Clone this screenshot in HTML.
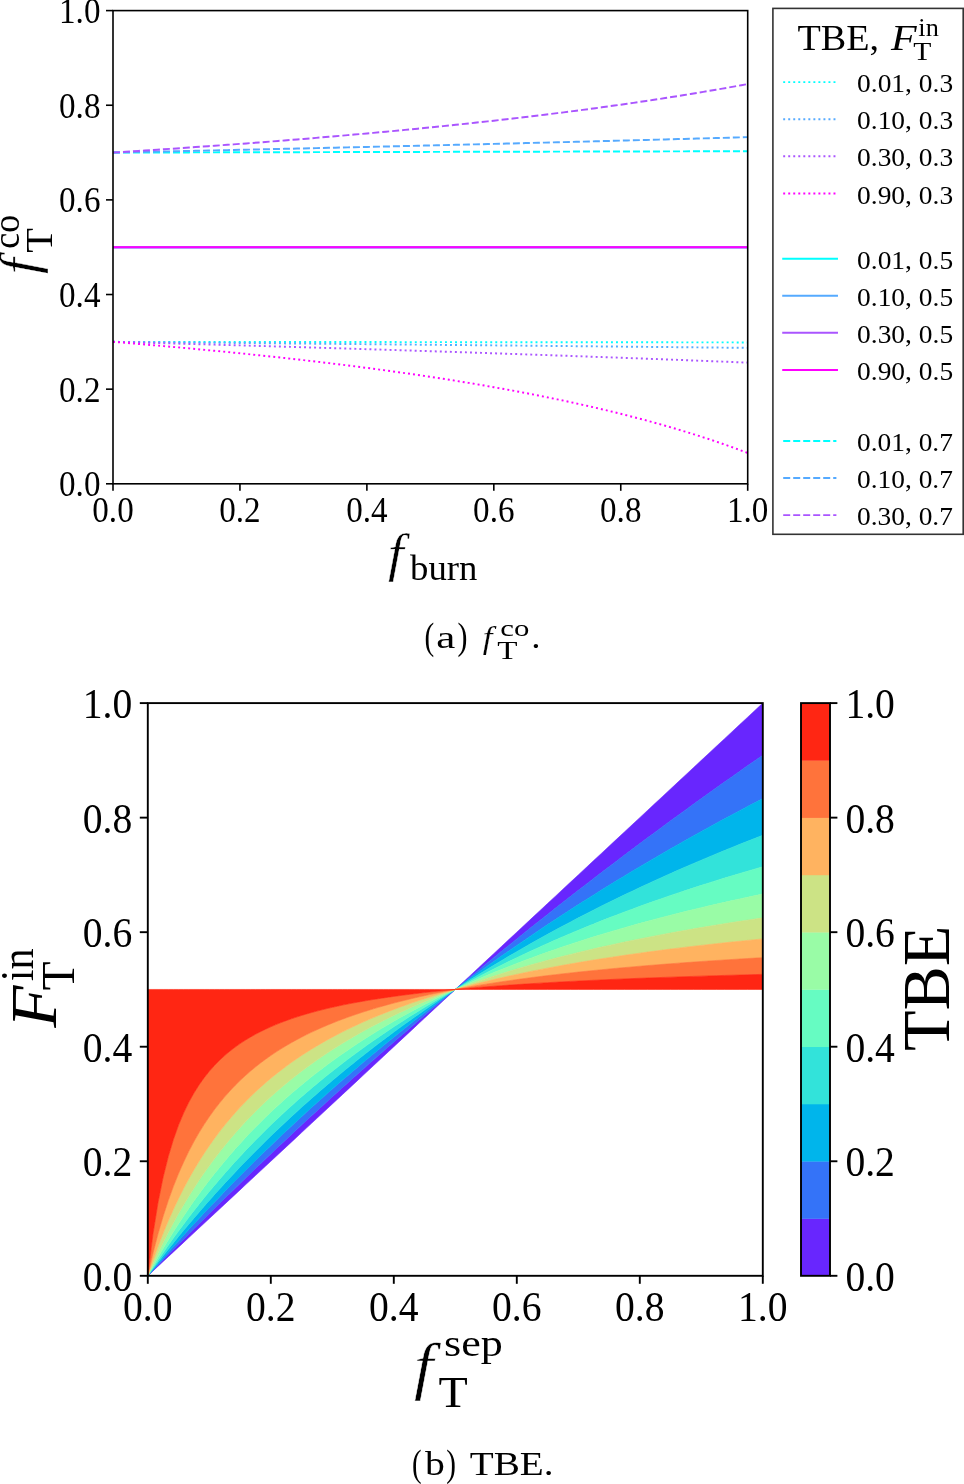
<!DOCTYPE html>
<html><head><meta charset="utf-8"><title>figure</title>
<style>
html,body{margin:0;padding:0;background:#fff}
svg{display:block}
text{font-family:"Liberation Serif",serif;font-kerning:none;white-space:pre}
</style></head><body>
<svg width="964" height="1484" viewBox="0 0 964 1484">
<rect width="964" height="1484" fill="#fff"/>
<clipPath id="c1"><rect x="113.00" y="10.60" width="634.70" height="473.20"/></clipPath>
<g clip-path="url(#c1)" fill="none" stroke-width="1.95">
<polyline points="113.00,341.84 119.35,341.85 125.69,341.85 132.04,341.86 138.39,341.86 144.74,341.87 151.08,341.87 157.43,341.88 163.78,341.89 170.12,341.89 176.47,341.90 182.82,341.90 189.16,341.91 195.51,341.91 201.86,341.92 208.20,341.93 214.55,341.93 220.90,341.94 227.25,341.94 233.59,341.95 239.94,341.95 246.29,341.96 252.63,341.97 258.98,341.97 265.33,341.98 271.68,341.98 278.02,341.99 284.37,341.99 290.72,342.00 297.06,342.00 303.41,342.01 309.76,342.02 316.10,342.02 322.45,342.03 328.80,342.03 335.15,342.04 341.49,342.04 347.84,342.05 354.19,342.06 360.53,342.06 366.88,342.07 373.23,342.07 379.57,342.08 385.92,342.08 392.27,342.09 398.62,342.10 404.96,342.10 411.31,342.11 417.66,342.11 424.00,342.12 430.35,342.12 436.70,342.13 443.04,342.14 449.39,342.14 455.74,342.15 462.09,342.15 468.43,342.16 474.78,342.16 481.13,342.17 487.47,342.18 493.82,342.18 500.17,342.19 506.51,342.19 512.86,342.20 519.21,342.20 525.56,342.21 531.90,342.22 538.25,342.22 544.60,342.23 550.94,342.23 557.29,342.24 563.64,342.24 569.98,342.25 576.33,342.26 582.68,342.26 589.03,342.27 595.37,342.27 601.72,342.28 608.07,342.28 614.41,342.29 620.76,342.30 627.11,342.30 633.45,342.31 639.80,342.31 646.15,342.32 652.50,342.33 658.84,342.33 665.19,342.34 671.54,342.34 677.88,342.35 684.23,342.35 690.58,342.36 696.92,342.37 703.27,342.37 709.62,342.38 715.97,342.38 722.31,342.39 728.66,342.39 735.01,342.40 741.35,342.41 747.70,342.41" stroke="#00ffff" stroke-dasharray="1.95 3.08"/>
<polyline points="113.00,341.84 119.35,341.90 125.69,341.95 132.04,342.01 138.39,342.07 144.74,342.12 151.08,342.18 157.43,342.24 163.78,342.30 170.12,342.35 176.47,342.41 182.82,342.47 189.16,342.53 195.51,342.58 201.86,342.64 208.20,342.70 214.55,342.76 220.90,342.82 227.25,342.87 233.59,342.93 239.94,342.99 246.29,343.05 252.63,343.11 258.98,343.16 265.33,343.22 271.68,343.28 278.02,343.34 284.37,343.40 290.72,343.46 297.06,343.52 303.41,343.57 309.76,343.63 316.10,343.69 322.45,343.75 328.80,343.81 335.15,343.87 341.49,343.93 347.84,343.99 354.19,344.05 360.53,344.11 366.88,344.17 373.23,344.23 379.57,344.29 385.92,344.35 392.27,344.41 398.62,344.47 404.96,344.53 411.31,344.59 417.66,344.65 424.00,344.71 430.35,344.77 436.70,344.83 443.04,344.89 449.39,344.95 455.74,345.01 462.09,345.07 468.43,345.13 474.78,345.19 481.13,345.25 487.47,345.31 493.82,345.37 500.17,345.44 506.51,345.50 512.86,345.56 519.21,345.62 525.56,345.68 531.90,345.74 538.25,345.80 544.60,345.87 550.94,345.93 557.29,345.99 563.64,346.05 569.98,346.11 576.33,346.18 582.68,346.24 589.03,346.30 595.37,346.36 601.72,346.42 608.07,346.49 614.41,346.55 620.76,346.61 627.11,346.67 633.45,346.74 639.80,346.80 646.15,346.86 652.50,346.93 658.84,346.99 665.19,347.05 671.54,347.12 677.88,347.18 684.23,347.24 690.58,347.31 696.92,347.37 703.27,347.43 709.62,347.50 715.97,347.56 722.31,347.62 728.66,347.69 735.01,347.75 741.35,347.82 747.70,347.88" stroke="#55aaff" stroke-dasharray="1.95 3.08"/>
<polyline points="113.00,341.84 119.35,342.01 125.69,342.18 132.04,342.35 138.39,342.53 144.74,342.70 151.08,342.87 157.43,343.05 163.78,343.22 170.12,343.40 176.47,343.57 182.82,343.75 189.16,343.93 195.51,344.11 201.86,344.29 208.20,344.47 214.55,344.65 220.90,344.83 227.25,345.01 233.59,345.19 239.94,345.37 246.29,345.56 252.63,345.74 258.98,345.93 265.33,346.11 271.68,346.30 278.02,346.49 284.37,346.67 290.72,346.86 297.06,347.05 303.41,347.24 309.76,347.43 316.10,347.62 322.45,347.82 328.80,348.01 335.15,348.20 341.49,348.40 347.84,348.59 354.19,348.79 360.53,348.99 366.88,349.18 373.23,349.38 379.57,349.58 385.92,349.78 392.27,349.98 398.62,350.18 404.96,350.38 411.31,350.59 417.66,350.79 424.00,350.99 430.35,351.20 436.70,351.41 443.04,351.61 449.39,351.82 455.74,352.03 462.09,352.24 468.43,352.45 474.78,352.66 481.13,352.87 487.47,353.08 493.82,353.30 500.17,353.51 506.51,353.73 512.86,353.94 519.21,354.16 525.56,354.38 531.90,354.60 538.25,354.82 544.60,355.04 550.94,355.26 557.29,355.48 563.64,355.71 569.98,355.93 576.33,356.16 582.68,356.38 589.03,356.61 595.37,356.84 601.72,357.07 608.07,357.30 614.41,357.53 620.76,357.76 627.11,357.99 633.45,358.23 639.80,358.46 646.15,358.70 652.50,358.94 658.84,359.17 665.19,359.41 671.54,359.65 677.88,359.89 684.23,360.14 690.58,360.38 696.92,360.62 703.27,360.87 709.62,361.11 715.97,361.36 722.31,361.61 728.66,361.86 735.01,362.11 741.35,362.36 747.70,362.61" stroke="#aa55ff" stroke-dasharray="1.95 3.08"/>
<polyline points="113.00,341.84 119.35,342.35 125.69,342.87 132.04,343.40 138.39,343.93 144.74,344.47 151.08,345.01 157.43,345.56 163.78,346.11 170.12,346.67 176.47,347.24 182.82,347.82 189.16,348.40 195.51,348.99 201.86,349.58 208.20,350.18 214.55,350.79 220.90,351.41 227.25,352.03 233.59,352.66 239.94,353.30 246.29,353.94 252.63,354.60 258.98,355.26 265.33,355.93 271.68,356.61 278.02,357.30 284.37,357.99 290.72,358.70 297.06,359.41 303.41,360.14 309.76,360.87 316.10,361.61 322.45,362.36 328.80,363.12 335.15,363.90 341.49,364.68 347.84,365.47 354.19,366.27 360.53,367.09 366.88,367.91 373.23,368.75 379.57,369.60 385.92,370.46 392.27,371.33 398.62,372.22 404.96,373.12 411.31,374.03 417.66,374.95 424.00,375.89 430.35,376.84 436.70,377.81 443.04,378.79 449.39,379.79 455.74,380.80 462.09,381.82 468.43,382.87 474.78,383.92 481.13,385.00 487.47,386.09 493.82,387.20 500.17,388.33 506.51,389.47 512.86,390.64 519.21,391.82 525.56,393.02 531.90,394.25 538.25,395.49 544.60,396.76 550.94,398.04 557.29,399.35 563.64,400.69 569.98,402.04 576.33,403.42 582.68,404.83 589.03,406.26 595.37,407.72 601.72,409.20 608.07,410.71 614.41,412.25 620.76,413.82 627.11,415.42 633.45,417.05 639.80,418.71 646.15,420.41 652.50,422.14 658.84,423.90 665.19,425.70 671.54,427.54 677.88,429.41 684.23,431.32 690.58,433.28 696.92,435.28 703.27,437.32 709.62,439.40 715.97,441.53 722.31,443.71 728.66,445.94 735.01,448.22 741.35,450.55 747.70,452.94" stroke="#ff00ff" stroke-dasharray="1.95 3.08"/>
<polyline points="113.00,247.20 119.35,247.20 125.69,247.20 132.04,247.20 138.39,247.20 144.74,247.20 151.08,247.20 157.43,247.20 163.78,247.20 170.12,247.20 176.47,247.20 182.82,247.20 189.16,247.20 195.51,247.20 201.86,247.20 208.20,247.20 214.55,247.20 220.90,247.20 227.25,247.20 233.59,247.20 239.94,247.20 246.29,247.20 252.63,247.20 258.98,247.20 265.33,247.20 271.68,247.20 278.02,247.20 284.37,247.20 290.72,247.20 297.06,247.20 303.41,247.20 309.76,247.20 316.10,247.20 322.45,247.20 328.80,247.20 335.15,247.20 341.49,247.20 347.84,247.20 354.19,247.20 360.53,247.20 366.88,247.20 373.23,247.20 379.57,247.20 385.92,247.20 392.27,247.20 398.62,247.20 404.96,247.20 411.31,247.20 417.66,247.20 424.00,247.20 430.35,247.20 436.70,247.20 443.04,247.20 449.39,247.20 455.74,247.20 462.09,247.20 468.43,247.20 474.78,247.20 481.13,247.20 487.47,247.20 493.82,247.20 500.17,247.20 506.51,247.20 512.86,247.20 519.21,247.20 525.56,247.20 531.90,247.20 538.25,247.20 544.60,247.20 550.94,247.20 557.29,247.20 563.64,247.20 569.98,247.20 576.33,247.20 582.68,247.20 589.03,247.20 595.37,247.20 601.72,247.20 608.07,247.20 614.41,247.20 620.76,247.20 627.11,247.20 633.45,247.20 639.80,247.20 646.15,247.20 652.50,247.20 658.84,247.20 665.19,247.20 671.54,247.20 677.88,247.20 684.23,247.20 690.58,247.20 696.92,247.20 703.27,247.20 709.62,247.20 715.97,247.20 722.31,247.20 728.66,247.20 735.01,247.20 741.35,247.20 747.70,247.20" stroke="#00ffff" stroke-linecap="square"/>
<polyline points="113.00,247.20 119.35,247.20 125.69,247.20 132.04,247.20 138.39,247.20 144.74,247.20 151.08,247.20 157.43,247.20 163.78,247.20 170.12,247.20 176.47,247.20 182.82,247.20 189.16,247.20 195.51,247.20 201.86,247.20 208.20,247.20 214.55,247.20 220.90,247.20 227.25,247.20 233.59,247.20 239.94,247.20 246.29,247.20 252.63,247.20 258.98,247.20 265.33,247.20 271.68,247.20 278.02,247.20 284.37,247.20 290.72,247.20 297.06,247.20 303.41,247.20 309.76,247.20 316.10,247.20 322.45,247.20 328.80,247.20 335.15,247.20 341.49,247.20 347.84,247.20 354.19,247.20 360.53,247.20 366.88,247.20 373.23,247.20 379.57,247.20 385.92,247.20 392.27,247.20 398.62,247.20 404.96,247.20 411.31,247.20 417.66,247.20 424.00,247.20 430.35,247.20 436.70,247.20 443.04,247.20 449.39,247.20 455.74,247.20 462.09,247.20 468.43,247.20 474.78,247.20 481.13,247.20 487.47,247.20 493.82,247.20 500.17,247.20 506.51,247.20 512.86,247.20 519.21,247.20 525.56,247.20 531.90,247.20 538.25,247.20 544.60,247.20 550.94,247.20 557.29,247.20 563.64,247.20 569.98,247.20 576.33,247.20 582.68,247.20 589.03,247.20 595.37,247.20 601.72,247.20 608.07,247.20 614.41,247.20 620.76,247.20 627.11,247.20 633.45,247.20 639.80,247.20 646.15,247.20 652.50,247.20 658.84,247.20 665.19,247.20 671.54,247.20 677.88,247.20 684.23,247.20 690.58,247.20 696.92,247.20 703.27,247.20 709.62,247.20 715.97,247.20 722.31,247.20 728.66,247.20 735.01,247.20 741.35,247.20 747.70,247.20" stroke="#55aaff" stroke-linecap="square"/>
<polyline points="113.00,247.20 119.35,247.20 125.69,247.20 132.04,247.20 138.39,247.20 144.74,247.20 151.08,247.20 157.43,247.20 163.78,247.20 170.12,247.20 176.47,247.20 182.82,247.20 189.16,247.20 195.51,247.20 201.86,247.20 208.20,247.20 214.55,247.20 220.90,247.20 227.25,247.20 233.59,247.20 239.94,247.20 246.29,247.20 252.63,247.20 258.98,247.20 265.33,247.20 271.68,247.20 278.02,247.20 284.37,247.20 290.72,247.20 297.06,247.20 303.41,247.20 309.76,247.20 316.10,247.20 322.45,247.20 328.80,247.20 335.15,247.20 341.49,247.20 347.84,247.20 354.19,247.20 360.53,247.20 366.88,247.20 373.23,247.20 379.57,247.20 385.92,247.20 392.27,247.20 398.62,247.20 404.96,247.20 411.31,247.20 417.66,247.20 424.00,247.20 430.35,247.20 436.70,247.20 443.04,247.20 449.39,247.20 455.74,247.20 462.09,247.20 468.43,247.20 474.78,247.20 481.13,247.20 487.47,247.20 493.82,247.20 500.17,247.20 506.51,247.20 512.86,247.20 519.21,247.20 525.56,247.20 531.90,247.20 538.25,247.20 544.60,247.20 550.94,247.20 557.29,247.20 563.64,247.20 569.98,247.20 576.33,247.20 582.68,247.20 589.03,247.20 595.37,247.20 601.72,247.20 608.07,247.20 614.41,247.20 620.76,247.20 627.11,247.20 633.45,247.20 639.80,247.20 646.15,247.20 652.50,247.20 658.84,247.20 665.19,247.20 671.54,247.20 677.88,247.20 684.23,247.20 690.58,247.20 696.92,247.20 703.27,247.20 709.62,247.20 715.97,247.20 722.31,247.20 728.66,247.20 735.01,247.20 741.35,247.20 747.70,247.20" stroke="#aa55ff" stroke-linecap="square"/>
<polyline points="113.00,247.20 119.35,247.20 125.69,247.20 132.04,247.20 138.39,247.20 144.74,247.20 151.08,247.20 157.43,247.20 163.78,247.20 170.12,247.20 176.47,247.20 182.82,247.20 189.16,247.20 195.51,247.20 201.86,247.20 208.20,247.20 214.55,247.20 220.90,247.20 227.25,247.20 233.59,247.20 239.94,247.20 246.29,247.20 252.63,247.20 258.98,247.20 265.33,247.20 271.68,247.20 278.02,247.20 284.37,247.20 290.72,247.20 297.06,247.20 303.41,247.20 309.76,247.20 316.10,247.20 322.45,247.20 328.80,247.20 335.15,247.20 341.49,247.20 347.84,247.20 354.19,247.20 360.53,247.20 366.88,247.20 373.23,247.20 379.57,247.20 385.92,247.20 392.27,247.20 398.62,247.20 404.96,247.20 411.31,247.20 417.66,247.20 424.00,247.20 430.35,247.20 436.70,247.20 443.04,247.20 449.39,247.20 455.74,247.20 462.09,247.20 468.43,247.20 474.78,247.20 481.13,247.20 487.47,247.20 493.82,247.20 500.17,247.20 506.51,247.20 512.86,247.20 519.21,247.20 525.56,247.20 531.90,247.20 538.25,247.20 544.60,247.20 550.94,247.20 557.29,247.20 563.64,247.20 569.98,247.20 576.33,247.20 582.68,247.20 589.03,247.20 595.37,247.20 601.72,247.20 608.07,247.20 614.41,247.20 620.76,247.20 627.11,247.20 633.45,247.20 639.80,247.20 646.15,247.20 652.50,247.20 658.84,247.20 665.19,247.20 671.54,247.20 677.88,247.20 684.23,247.20 690.58,247.20 696.92,247.20 703.27,247.20 709.62,247.20 715.97,247.20 722.31,247.20 728.66,247.20 735.01,247.20 741.35,247.20 747.70,247.20" stroke="#ff00ff" stroke-linecap="square"/>
<polyline points="113.00,152.56 119.35,152.55 125.69,152.53 132.04,152.52 138.39,152.51 144.74,152.49 151.08,152.48 157.43,152.47 163.78,152.45 170.12,152.44 176.47,152.43 182.82,152.41 189.16,152.40 195.51,152.39 201.86,152.37 208.20,152.36 214.55,152.35 220.90,152.33 227.25,152.32 233.59,152.31 239.94,152.29 246.29,152.28 252.63,152.27 258.98,152.25 265.33,152.24 271.68,152.23 278.02,152.21 284.37,152.20 290.72,152.19 297.06,152.17 303.41,152.16 309.76,152.15 316.10,152.13 322.45,152.12 328.80,152.11 335.15,152.09 341.49,152.08 347.84,152.07 354.19,152.05 360.53,152.04 366.88,152.03 373.23,152.01 379.57,152.00 385.92,151.99 392.27,151.97 398.62,151.96 404.96,151.95 411.31,151.93 417.66,151.92 424.00,151.91 430.35,151.89 436.70,151.88 443.04,151.87 449.39,151.85 455.74,151.84 462.09,151.83 468.43,151.81 474.78,151.80 481.13,151.79 487.47,151.77 493.82,151.76 500.17,151.74 506.51,151.73 512.86,151.72 519.21,151.70 525.56,151.69 531.90,151.68 538.25,151.66 544.60,151.65 550.94,151.64 557.29,151.62 563.64,151.61 569.98,151.60 576.33,151.58 582.68,151.57 589.03,151.56 595.37,151.54 601.72,151.53 608.07,151.52 614.41,151.50 620.76,151.49 627.11,151.47 633.45,151.46 639.80,151.45 646.15,151.43 652.50,151.42 658.84,151.41 665.19,151.39 671.54,151.38 677.88,151.37 684.23,151.35 690.58,151.34 696.92,151.33 703.27,151.31 709.62,151.30 715.97,151.28 722.31,151.27 728.66,151.26 735.01,151.24 741.35,151.23 747.70,151.22" stroke="#00ffff" stroke-dasharray="7.0 3.0"/>
<polyline points="113.00,152.56 119.35,152.43 125.69,152.29 132.04,152.16 138.39,152.03 144.74,151.89 151.08,151.76 157.43,151.62 163.78,151.49 170.12,151.35 176.47,151.22 182.82,151.08 189.16,150.94 195.51,150.81 201.86,150.67 208.20,150.53 214.55,150.39 220.90,150.25 227.25,150.11 233.59,149.97 239.94,149.83 246.29,149.69 252.63,149.55 258.98,149.41 265.33,149.27 271.68,149.13 278.02,148.98 284.37,148.84 290.72,148.70 297.06,148.56 303.41,148.41 309.76,148.27 316.10,148.12 322.45,147.98 328.80,147.83 335.15,147.68 341.49,147.54 347.84,147.39 354.19,147.24 360.53,147.09 366.88,146.95 373.23,146.80 379.57,146.65 385.92,146.50 392.27,146.35 398.62,146.20 404.96,146.05 411.31,145.89 417.66,145.74 424.00,145.59 430.35,145.44 436.70,145.28 443.04,145.13 449.39,144.97 455.74,144.82 462.09,144.66 468.43,144.51 474.78,144.35 481.13,144.20 487.47,144.04 493.82,143.88 500.17,143.72 506.51,143.56 512.86,143.41 519.21,143.25 525.56,143.09 531.90,142.92 538.25,142.76 544.60,142.60 550.94,142.44 557.29,142.28 563.64,142.11 569.98,141.95 576.33,141.79 582.68,141.62 589.03,141.46 595.37,141.29 601.72,141.13 608.07,140.96 614.41,140.79 620.76,140.62 627.11,140.46 633.45,140.29 639.80,140.12 646.15,139.95 652.50,139.78 658.84,139.61 665.19,139.43 671.54,139.26 677.88,139.09 684.23,138.92 690.58,138.74 696.92,138.57 703.27,138.39 709.62,138.22 715.97,138.04 722.31,137.87 728.66,137.69 735.01,137.51 741.35,137.33 747.70,137.15" stroke="#55aaff" stroke-dasharray="7.0 3.0"/>
<polyline points="113.00,152.56 119.35,152.16 125.69,151.76 132.04,151.35 138.39,150.94 144.74,150.53 151.08,150.11 157.43,149.69 163.78,149.27 170.12,148.84 176.47,148.41 182.82,147.98 189.16,147.54 195.51,147.09 201.86,146.65 208.20,146.20 214.55,145.74 220.90,145.28 227.25,144.82 233.59,144.35 239.94,143.88 246.29,143.41 252.63,142.92 258.98,142.44 265.33,141.95 271.68,141.46 278.02,140.96 284.37,140.46 290.72,139.95 297.06,139.43 303.41,138.92 309.76,138.39 316.10,137.87 322.45,137.33 328.80,136.79 335.15,136.25 341.49,135.70 347.84,135.15 354.19,134.59 360.53,134.02 366.88,133.45 373.23,132.87 379.57,132.29 385.92,131.70 392.27,131.11 398.62,130.50 404.96,129.90 411.31,129.28 417.66,128.66 424.00,128.04 430.35,127.40 436.70,126.76 443.04,126.12 449.39,125.46 455.74,124.80 462.09,124.13 468.43,123.46 474.78,122.77 481.13,122.08 487.47,121.38 493.82,120.68 500.17,119.96 506.51,119.24 512.86,118.51 519.21,117.77 525.56,117.02 531.90,116.26 538.25,115.50 544.60,114.73 550.94,113.94 557.29,113.15 563.64,112.35 569.98,111.53 576.33,110.71 582.68,109.88 589.03,109.04 595.37,108.19 601.72,107.32 608.07,106.45 614.41,105.57 620.76,104.67 627.11,103.76 633.45,102.84 639.80,101.91 646.15,100.97 652.50,100.01 658.84,99.05 665.19,98.07 671.54,97.07 677.88,96.07 684.23,95.05 690.58,94.01 696.92,92.96 703.27,91.90 709.62,90.82 715.97,89.73 722.31,88.62 728.66,87.50 735.01,86.36 741.35,85.20 747.70,84.03" stroke="#aa55ff" stroke-dasharray="7.0 3.0"/>
</g>
<g stroke="#000" stroke-width="1.60" fill="none">
<rect x="113.00" y="10.60" width="634.70" height="473.20"/>
<line x1="113.00" y1="483.80" x2="113.00" y2="490.80"/>
<line x1="113.00" y1="483.80" x2="106.00" y2="483.80"/>
<line x1="239.94" y1="483.80" x2="239.94" y2="490.80"/>
<line x1="113.00" y1="389.16" x2="106.00" y2="389.16"/>
<line x1="366.88" y1="483.80" x2="366.88" y2="490.80"/>
<line x1="113.00" y1="294.52" x2="106.00" y2="294.52"/>
<line x1="493.82" y1="483.80" x2="493.82" y2="490.80"/>
<line x1="113.00" y1="199.88" x2="106.00" y2="199.88"/>
<line x1="620.76" y1="483.80" x2="620.76" y2="490.80"/>
<line x1="113.00" y1="105.24" x2="106.00" y2="105.24"/>
<line x1="747.70" y1="483.80" x2="747.70" y2="490.80"/>
<line x1="113.00" y1="10.60" x2="106.00" y2="10.60"/>
</g>
<text transform="translate(59.04,496.30) scale(0.9005,1)" font-size="36.80" fill="#000">0.0</text>
<text transform="translate(92.29,522.00) scale(0.9005,1)" font-size="36.80" fill="#000">0.0</text>
<text transform="translate(59.04,401.66) scale(0.9005,1)" font-size="36.80" fill="#000">0.2</text>
<text transform="translate(219.23,522.00) scale(0.9005,1)" font-size="36.80" fill="#000">0.2</text>
<text transform="translate(59.04,307.02) scale(0.9005,1)" font-size="36.80" fill="#000">0.4</text>
<text transform="translate(346.17,522.00) scale(0.9005,1)" font-size="36.80" fill="#000">0.4</text>
<text transform="translate(59.04,212.38) scale(0.9005,1)" font-size="36.80" fill="#000">0.6</text>
<text transform="translate(473.11,522.00) scale(0.9005,1)" font-size="36.80" fill="#000">0.6</text>
<text transform="translate(59.04,117.74) scale(0.9005,1)" font-size="36.80" fill="#000">0.8</text>
<text transform="translate(600.05,522.00) scale(0.9005,1)" font-size="36.80" fill="#000">0.8</text>
<text transform="translate(59.04,23.10) scale(0.9005,1)" font-size="36.80" fill="#000">1.0</text>
<text transform="translate(726.99,522.00) scale(0.9005,1)" font-size="36.80" fill="#000">1.0</text>
<text transform="translate(387.97,570.70) scale(1.0800,1)" font-size="51.80" font-style="italic" stroke="#fff" stroke-width="0.40" paint-order="fill stroke" fill="#000">f</text>
<text transform="translate(410.10,579.50) scale(1.0040,1)" font-size="36.60" fill="#000">burn</text>
<text transform="translate(37.00,273.93) rotate(-90) scale(1.0800,1)" font-size="52.20" font-style="italic" stroke="#fff" stroke-width="0.40" paint-order="fill stroke" fill="#000">f</text>
<text transform="translate(19.00,248.77) rotate(-90) scale(0.9687,1)" font-size="37.00" fill="#000">co</text>
<text transform="translate(51.70,252.83) rotate(-90) scale(1.0670,1)" font-size="37.90" fill="#000">T</text>
<rect x="772.9" y="8.4" width="190.3" height="525.9" fill="#fff" stroke="#333" stroke-width="1.6"/>
<text transform="translate(797.51,49.90) scale(1.0627,1)" font-size="35.90" fill="#000">TBE,</text>
<text transform="translate(890.93,49.90) scale(1.1686,1)" font-size="35.90" font-style="italic" fill="#000">F</text>
<text transform="translate(918.35,35.80) scale(1.0687,1)" font-size="24.60" fill="#000">in</text>
<text transform="translate(913.36,59.80) scale(1.1967,1)" font-size="24.80" fill="#000">T</text>
<line x1="783.2" y1="82.10" x2="836.4" y2="82.10" stroke="#00ffff" stroke-width="1.95" stroke-dasharray="1.95 3.08"/>
<text transform="translate(857.05,92.20) scale(1.0855,1)" font-size="25.30" fill="#000">0.01, 0.3</text>
<line x1="783.2" y1="119.30" x2="836.4" y2="119.30" stroke="#55aaff" stroke-width="1.95" stroke-dasharray="1.95 3.08"/>
<text transform="translate(857.05,129.40) scale(1.0855,1)" font-size="25.30" fill="#000">0.10, 0.3</text>
<line x1="783.2" y1="156.30" x2="836.4" y2="156.30" stroke="#aa55ff" stroke-width="1.95" stroke-dasharray="1.95 3.08"/>
<text transform="translate(857.05,166.40) scale(1.0855,1)" font-size="25.30" fill="#000">0.30, 0.3</text>
<line x1="783.2" y1="193.40" x2="836.4" y2="193.40" stroke="#ff00ff" stroke-width="1.95" stroke-dasharray="1.95 3.08"/>
<text transform="translate(857.05,203.50) scale(1.0855,1)" font-size="25.30" fill="#000">0.90, 0.3</text>
<line x1="783.2" y1="258.80" x2="837.0" y2="258.80" stroke="#00ffff" stroke-width="1.95" stroke-linecap="square"/>
<text transform="translate(857.05,268.90) scale(1.0855,1)" font-size="25.30" fill="#000">0.01, 0.5</text>
<line x1="783.2" y1="295.80" x2="837.0" y2="295.80" stroke="#55aaff" stroke-width="1.95" stroke-linecap="square"/>
<text transform="translate(857.05,305.90) scale(1.0855,1)" font-size="25.30" fill="#000">0.10, 0.5</text>
<line x1="783.2" y1="332.80" x2="837.0" y2="332.80" stroke="#aa55ff" stroke-width="1.95" stroke-linecap="square"/>
<text transform="translate(857.05,342.90) scale(1.0855,1)" font-size="25.30" fill="#000">0.30, 0.5</text>
<line x1="783.2" y1="369.90" x2="837.0" y2="369.90" stroke="#ff00ff" stroke-width="1.95" stroke-linecap="square"/>
<text transform="translate(857.05,380.00) scale(1.0855,1)" font-size="25.30" fill="#000">0.90, 0.5</text>
<line x1="783.2" y1="440.90" x2="836.4" y2="440.90" stroke="#00ffff" stroke-width="1.95" stroke-dasharray="7.0 3.0"/>
<text transform="translate(857.06,451.00) scale(1.0822,1)" font-size="25.30" fill="#000">0.01, 0.7</text>
<line x1="783.2" y1="477.90" x2="836.4" y2="477.90" stroke="#55aaff" stroke-width="1.95" stroke-dasharray="7.0 3.0"/>
<text transform="translate(857.06,488.00) scale(1.0822,1)" font-size="25.30" fill="#000">0.10, 0.7</text>
<line x1="783.2" y1="515.10" x2="836.4" y2="515.10" stroke="#aa55ff" stroke-width="1.95" stroke-dasharray="7.0 3.0"/>
<text transform="translate(857.06,525.20) scale(1.0822,1)" font-size="25.30" fill="#000">0.30, 0.7</text>
<text fill="#000"><tspan x="424.42" y="648.60" font-size="37.00" textLength="9.72" lengthAdjust="spacingAndGlyphs">(</tspan><tspan x="436.29" y="648.00" font-size="31.30" textLength="19.10" lengthAdjust="spacingAndGlyphs">a</tspan><tspan x="457.43" y="648.60" font-size="37.00" textLength="9.98" lengthAdjust="spacingAndGlyphs">)</tspan></text>
<text transform="translate(482.81,647.60) scale(1.0800,1)" font-size="32.50" font-style="italic" stroke="#fff" stroke-width="0.15" paint-order="fill stroke" fill="#000">f</text>
<text transform="translate(500.23,636.40) scale(1.3437,1)" font-size="22.90" fill="#000">co</text>
<text transform="translate(497.20,659.20) scale(1.3476,1)" font-size="24.60" fill="#000">T</text>
<text transform="translate(531.35,648.20) scale(1.1284,1)" font-size="33.00" fill="#000">.</text>
<clipPath id="c2"><rect x="147.80" y="703.10" width="615.00" height="572.70"/></clipPath>
<g clip-path="url(#c2)" stroke="none">
<polygon fill="#6826fe" stroke="#6826fe" stroke-width="0.6" points="147.80,1275.80 152.93,1271.03 158.05,1266.25 163.18,1261.48 168.30,1256.71 173.43,1251.94 178.55,1247.16 183.68,1242.39 188.80,1237.62 193.93,1232.85 199.05,1228.08 204.18,1223.30 209.30,1218.53 214.43,1213.76 219.55,1208.98 224.68,1204.21 229.80,1199.44 234.93,1194.67 240.05,1189.89 245.18,1185.12 250.30,1180.35 255.43,1175.58 260.55,1170.81 265.68,1166.03 270.80,1161.26 275.93,1156.49 281.05,1151.71 286.18,1146.94 291.30,1142.17 296.43,1137.40 301.55,1132.62 306.67,1127.85 311.80,1123.08 316.93,1118.31 322.05,1113.53 327.18,1108.76 332.30,1103.99 337.43,1099.22 342.55,1094.44 347.68,1089.67 352.80,1084.90 357.93,1080.13 363.05,1075.36 368.18,1070.58 373.30,1065.81 378.43,1061.04 383.55,1056.26 388.68,1051.49 393.80,1046.72 398.93,1041.95 404.05,1037.17 409.18,1032.40 414.30,1027.63 419.43,1022.86 424.55,1018.09 429.68,1013.31 434.80,1008.54 439.93,1003.77 445.05,999.00 450.18,994.22 455.30,989.45 455.30,989.45 450.18,993.75 445.05,998.07 439.93,1002.40 434.80,1006.75 429.68,1011.11 424.55,1015.48 419.43,1019.87 414.30,1024.28 409.18,1028.70 404.05,1033.13 398.93,1037.58 393.80,1042.04 388.68,1046.52 383.55,1051.02 378.43,1055.53 373.30,1060.06 368.18,1064.60 363.05,1069.16 357.93,1073.73 352.80,1078.32 347.68,1082.92 342.55,1087.54 337.43,1092.18 332.30,1096.83 327.18,1101.50 322.05,1106.19 316.93,1110.89 311.80,1115.60 306.67,1120.34 301.55,1125.09 296.43,1129.86 291.30,1134.64 286.18,1139.44 281.05,1144.26 275.93,1149.10 270.80,1153.95 265.68,1158.82 260.55,1163.71 255.43,1168.61 250.30,1173.53 245.18,1178.47 240.05,1183.43 234.93,1188.40 229.80,1193.40 224.68,1198.41 219.55,1203.44 214.43,1208.48 209.30,1213.55 204.18,1218.63 199.05,1223.74 193.93,1228.86 188.80,1234.00 183.68,1239.16 178.55,1244.33 173.43,1249.53 168.30,1254.74 163.18,1259.98 158.05,1265.23 152.93,1270.51 147.80,1275.80"/>
<polygon fill="#3473f8" stroke="#3473f8" stroke-width="0.6" points="147.80,1275.80 152.93,1270.51 158.05,1265.23 163.18,1259.98 168.30,1254.74 173.43,1249.53 178.55,1244.33 183.68,1239.16 188.80,1234.00 193.93,1228.86 199.05,1223.74 204.18,1218.63 209.30,1213.55 214.43,1208.48 219.55,1203.44 224.68,1198.41 229.80,1193.40 234.93,1188.40 240.05,1183.43 245.18,1178.47 250.30,1173.53 255.43,1168.61 260.55,1163.71 265.68,1158.82 270.80,1153.95 275.93,1149.10 281.05,1144.26 286.18,1139.44 291.30,1134.64 296.43,1129.86 301.55,1125.09 306.67,1120.34 311.80,1115.60 316.93,1110.89 322.05,1106.19 327.18,1101.50 332.30,1096.83 337.43,1092.18 342.55,1087.54 347.68,1082.92 352.80,1078.32 357.93,1073.73 363.05,1069.16 368.18,1064.60 373.30,1060.06 378.43,1055.53 383.55,1051.02 388.68,1046.52 393.80,1042.04 398.93,1037.58 404.05,1033.13 409.18,1028.70 414.30,1024.28 419.43,1019.87 424.55,1015.48 429.68,1011.11 434.80,1006.75 439.93,1002.40 445.05,998.07 450.18,993.75 455.30,989.45 455.30,989.45 450.18,993.28 445.05,997.14 439.93,1001.02 434.80,1004.93 429.68,1008.86 424.55,1012.83 419.43,1016.81 414.30,1020.83 409.18,1024.87 404.05,1028.95 398.93,1033.05 393.80,1037.17 388.68,1041.33 383.55,1045.52 378.43,1049.73 373.30,1053.98 368.18,1058.25 363.05,1062.56 357.93,1066.90 352.80,1071.26 347.68,1075.66 342.55,1080.09 337.43,1084.56 332.30,1089.05 327.18,1093.58 322.05,1098.14 316.93,1102.73 311.80,1107.36 306.67,1112.02 301.55,1116.72 296.43,1121.45 291.30,1126.21 286.18,1131.02 281.05,1135.85 275.93,1140.73 270.80,1145.64 265.68,1150.59 260.55,1155.58 255.43,1160.60 250.30,1165.67 245.18,1170.77 240.05,1175.91 234.93,1181.09 229.80,1186.32 224.68,1191.58 219.55,1196.88 214.43,1202.23 209.30,1207.62 204.18,1213.05 199.05,1218.53 193.93,1224.05 188.80,1229.61 183.68,1235.22 178.55,1240.88 173.43,1246.58 168.30,1252.33 163.18,1258.12 158.05,1263.97 152.93,1269.86 147.80,1275.80"/>
<polygon fill="#00b5eb" stroke="#00b5eb" stroke-width="0.6" points="147.80,1275.80 152.93,1269.86 158.05,1263.97 163.18,1258.12 168.30,1252.33 173.43,1246.58 178.55,1240.88 183.68,1235.22 188.80,1229.61 193.93,1224.05 199.05,1218.53 204.18,1213.05 209.30,1207.62 214.43,1202.23 219.55,1196.88 224.68,1191.58 229.80,1186.32 234.93,1181.09 240.05,1175.91 245.18,1170.77 250.30,1165.67 255.43,1160.60 260.55,1155.58 265.68,1150.59 270.80,1145.64 275.93,1140.73 281.05,1135.85 286.18,1131.02 291.30,1126.21 296.43,1121.45 301.55,1116.72 306.67,1112.02 311.80,1107.36 316.93,1102.73 322.05,1098.14 327.18,1093.58 332.30,1089.05 337.43,1084.56 342.55,1080.09 347.68,1075.66 352.80,1071.26 357.93,1066.90 363.05,1062.56 368.18,1058.25 373.30,1053.98 378.43,1049.73 383.55,1045.52 388.68,1041.33 393.80,1037.17 398.93,1033.05 404.05,1028.95 409.18,1024.87 414.30,1020.83 419.43,1016.81 424.55,1012.83 429.68,1008.86 434.80,1004.93 439.93,1001.02 445.05,997.14 450.18,993.28 455.30,989.45 455.30,989.45 450.18,992.81 445.05,996.20 439.93,999.62 434.80,1003.09 429.68,1006.58 424.55,1010.11 419.43,1013.68 414.30,1017.29 409.18,1020.93 404.05,1024.62 398.93,1028.34 393.80,1032.10 388.68,1035.90 383.55,1039.74 378.43,1043.62 373.30,1047.55 368.18,1051.52 363.05,1055.53 357.93,1059.59 352.80,1063.69 347.68,1067.84 342.55,1072.03 337.43,1076.27 332.30,1080.56 327.18,1084.90 322.05,1089.29 316.93,1093.73 311.80,1098.22 306.67,1102.76 301.55,1107.36 296.43,1112.01 291.30,1116.72 286.18,1121.48 281.05,1126.30 275.93,1131.18 270.80,1136.12 265.68,1141.12 260.55,1146.18 255.43,1151.30 250.30,1156.49 245.18,1161.74 240.05,1167.06 234.93,1172.45 229.80,1177.90 224.68,1183.43 219.55,1189.03 214.43,1194.70 209.30,1200.44 204.18,1206.27 199.05,1212.17 193.93,1218.15 188.80,1224.21 183.68,1230.35 178.55,1236.57 173.43,1242.89 168.30,1249.29 163.18,1255.78 158.05,1262.36 152.93,1269.03 147.80,1275.80"/>
<polygon fill="#32e3da" stroke="#32e3da" stroke-width="0.6" points="147.80,1275.80 152.93,1269.03 158.05,1262.36 163.18,1255.78 168.30,1249.29 173.43,1242.89 178.55,1236.57 183.68,1230.35 188.80,1224.21 193.93,1218.15 199.05,1212.17 204.18,1206.27 209.30,1200.44 214.43,1194.70 219.55,1189.03 224.68,1183.43 229.80,1177.90 234.93,1172.45 240.05,1167.06 245.18,1161.74 250.30,1156.49 255.43,1151.30 260.55,1146.18 265.68,1141.12 270.80,1136.12 275.93,1131.18 281.05,1126.30 286.18,1121.48 291.30,1116.72 296.43,1112.01 301.55,1107.36 306.67,1102.76 311.80,1098.22 316.93,1093.73 322.05,1089.29 327.18,1084.90 332.30,1080.56 337.43,1076.27 342.55,1072.03 347.68,1067.84 352.80,1063.69 357.93,1059.59 363.05,1055.53 368.18,1051.52 373.30,1047.55 378.43,1043.62 383.55,1039.74 388.68,1035.90 393.80,1032.10 398.93,1028.34 404.05,1024.62 409.18,1020.93 414.30,1017.29 419.43,1013.68 424.55,1010.11 429.68,1006.58 434.80,1003.09 439.93,999.62 445.05,996.20 450.18,992.81 455.30,989.45 455.30,989.45 450.18,992.33 445.05,995.25 439.93,998.22 434.80,1001.22 429.68,1004.26 424.55,1007.35 419.43,1010.48 414.30,1013.65 409.18,1016.87 404.05,1020.13 398.93,1023.44 393.80,1026.80 388.68,1030.21 383.55,1033.67 378.43,1037.17 373.30,1040.74 368.18,1044.35 363.05,1048.02 357.93,1051.75 352.80,1055.53 347.68,1059.37 342.55,1063.27 337.43,1067.24 332.30,1071.26 327.18,1075.36 322.05,1079.51 316.93,1083.74 311.80,1088.03 306.67,1092.39 301.55,1096.83 296.43,1101.34 291.30,1105.93 286.18,1110.60 281.05,1115.35 275.93,1120.17 270.80,1125.09 265.68,1130.09 260.55,1135.18 255.43,1140.36 250.30,1145.64 245.18,1151.01 240.05,1156.49 234.93,1162.06 229.80,1167.74 224.68,1173.53 219.55,1179.43 214.43,1185.45 209.30,1191.58 204.18,1197.83 199.05,1204.21 193.93,1210.72 188.80,1217.36 183.68,1224.14 178.55,1231.06 173.43,1238.12 168.30,1245.34 163.18,1252.71 158.05,1260.24 152.93,1267.93 147.80,1275.80"/>
<polygon fill="#66fcc2" stroke="#66fcc2" stroke-width="0.6" points="147.80,1275.80 152.93,1267.93 158.05,1260.24 163.18,1252.71 168.30,1245.34 173.43,1238.12 178.55,1231.06 183.68,1224.14 188.80,1217.36 193.93,1210.72 199.05,1204.21 204.18,1197.83 209.30,1191.58 214.43,1185.45 219.55,1179.43 224.68,1173.53 229.80,1167.74 234.93,1162.06 240.05,1156.49 245.18,1151.01 250.30,1145.64 255.43,1140.36 260.55,1135.18 265.68,1130.09 270.80,1125.09 275.93,1120.17 281.05,1115.35 286.18,1110.60 291.30,1105.93 296.43,1101.34 301.55,1096.83 306.67,1092.39 311.80,1088.03 316.93,1083.74 322.05,1079.51 327.18,1075.36 332.30,1071.26 337.43,1067.24 342.55,1063.27 347.68,1059.37 352.80,1055.53 357.93,1051.75 363.05,1048.02 368.18,1044.35 373.30,1040.74 378.43,1037.17 383.55,1033.67 388.68,1030.21 393.80,1026.80 398.93,1023.44 404.05,1020.13 409.18,1016.87 414.30,1013.65 419.43,1010.48 424.55,1007.35 429.68,1004.26 434.80,1001.22 439.93,998.22 445.05,995.25 450.18,992.33 455.30,989.45 455.30,989.45 450.18,991.86 445.05,994.30 439.93,996.79 434.80,999.32 429.68,1001.90 424.55,1004.52 419.43,1007.19 414.30,1009.90 409.18,1012.67 404.05,1015.48 398.93,1018.35 393.80,1021.27 388.68,1024.24 383.55,1027.27 378.43,1030.36 373.30,1033.50 368.18,1036.71 363.05,1039.98 357.93,1043.32 352.80,1046.72 347.68,1050.19 342.55,1053.73 337.43,1057.35 332.30,1061.04 327.18,1064.81 322.05,1068.65 316.93,1072.58 311.80,1076.60 306.67,1080.70 301.55,1084.90 296.43,1089.19 291.30,1093.58 286.18,1098.07 281.05,1102.66 275.93,1107.36 270.80,1112.17 265.68,1117.10 260.55,1122.15 255.43,1127.32 250.30,1132.62 245.18,1138.06 240.05,1143.64 234.93,1149.36 229.80,1155.23 224.68,1161.26 219.55,1167.45 214.43,1173.81 209.30,1180.35 204.18,1187.07 199.05,1193.99 193.93,1201.10 188.80,1208.42 183.68,1215.97 178.55,1223.74 173.43,1231.75 168.30,1240.01 163.18,1248.53 158.05,1257.33 152.93,1266.41 147.80,1275.80"/>
<polygon fill="#99fca6" stroke="#99fca6" stroke-width="0.6" points="147.80,1275.80 152.93,1266.41 158.05,1257.33 163.18,1248.53 168.30,1240.01 173.43,1231.75 178.55,1223.74 183.68,1215.97 188.80,1208.42 193.93,1201.10 199.05,1193.99 204.18,1187.07 209.30,1180.35 214.43,1173.81 219.55,1167.45 224.68,1161.26 229.80,1155.23 234.93,1149.36 240.05,1143.64 245.18,1138.06 250.30,1132.62 255.43,1127.32 260.55,1122.15 265.68,1117.10 270.80,1112.17 275.93,1107.36 281.05,1102.66 286.18,1098.07 291.30,1093.58 296.43,1089.19 301.55,1084.90 306.67,1080.70 311.80,1076.60 316.93,1072.58 322.05,1068.65 327.18,1064.81 332.30,1061.04 337.43,1057.35 342.55,1053.73 347.68,1050.19 352.80,1046.72 357.93,1043.32 363.05,1039.98 368.18,1036.71 373.30,1033.50 378.43,1030.36 383.55,1027.27 388.68,1024.24 393.80,1021.27 398.93,1018.35 404.05,1015.48 409.18,1012.67 414.30,1009.90 419.43,1007.19 424.55,1004.52 429.68,1001.90 434.80,999.32 439.93,996.79 445.05,994.30 450.18,991.86 455.30,989.45 455.30,989.45 450.18,991.38 445.05,993.35 439.93,995.35 434.80,997.40 429.68,999.50 424.55,1001.64 419.43,1003.82 414.30,1006.05 409.18,1008.33 404.05,1010.66 398.93,1013.04 393.80,1015.48 388.68,1017.98 383.55,1020.53 378.43,1023.14 373.30,1025.81 368.18,1028.55 363.05,1031.35 357.93,1034.23 352.80,1037.17 347.68,1040.20 342.55,1043.29 337.43,1046.47 332.30,1049.73 327.18,1053.08 322.05,1056.52 316.93,1060.06 311.80,1063.69 306.67,1067.42 301.55,1071.26 296.43,1075.22 291.30,1079.29 286.18,1083.48 281.05,1087.79 275.93,1092.24 270.80,1096.83 265.68,1101.57 260.55,1106.45 255.43,1111.50 250.30,1116.72 245.18,1122.11 240.05,1127.69 234.93,1133.46 229.80,1139.44 224.68,1145.64 219.55,1152.07 214.43,1158.74 209.30,1165.67 204.18,1172.86 199.05,1180.35 193.93,1188.14 188.80,1196.26 183.68,1204.72 178.55,1213.55 173.43,1222.77 168.30,1232.41 163.18,1242.50 158.05,1253.07 152.93,1264.16 147.80,1275.80"/>
<polygon fill="#cce385" stroke="#cce385" stroke-width="0.6" points="147.80,1275.80 152.93,1264.16 158.05,1253.07 163.18,1242.50 168.30,1232.41 173.43,1222.77 178.55,1213.55 183.68,1204.72 188.80,1196.26 193.93,1188.14 199.05,1180.35 204.18,1172.86 209.30,1165.67 214.43,1158.74 219.55,1152.07 224.68,1145.64 229.80,1139.44 234.93,1133.46 240.05,1127.69 245.18,1122.11 250.30,1116.72 255.43,1111.50 260.55,1106.45 265.68,1101.57 270.80,1096.83 275.93,1092.24 281.05,1087.79 286.18,1083.48 291.30,1079.29 296.43,1075.22 301.55,1071.26 306.67,1067.42 311.80,1063.69 316.93,1060.06 322.05,1056.52 327.18,1053.08 332.30,1049.73 337.43,1046.47 342.55,1043.29 347.68,1040.20 352.80,1037.17 357.93,1034.23 363.05,1031.35 368.18,1028.55 373.30,1025.81 378.43,1023.14 383.55,1020.53 388.68,1017.98 393.80,1015.48 398.93,1013.04 404.05,1010.66 409.18,1008.33 414.30,1006.05 419.43,1003.82 424.55,1001.64 429.68,999.50 434.80,997.40 439.93,995.35 445.05,993.35 450.18,991.38 455.30,989.45 455.30,989.45 450.18,990.90 445.05,992.38 439.93,993.90 434.80,995.46 429.68,997.05 424.55,998.69 419.43,1000.36 414.30,1002.08 409.18,1003.85 404.05,1005.66 398.93,1007.52 393.80,1009.43 388.68,1011.39 383.55,1013.41 378.43,1015.48 373.30,1017.62 368.18,1019.81 363.05,1022.07 357.93,1024.40 352.80,1026.80 347.68,1029.27 342.55,1031.82 337.43,1034.46 332.30,1037.17 327.18,1039.98 322.05,1042.88 316.93,1045.88 311.80,1048.99 306.67,1052.20 301.55,1055.53 296.43,1058.98 291.30,1062.56 286.18,1066.28 281.05,1070.13 275.93,1074.15 270.80,1078.32 265.68,1082.66 260.55,1087.19 255.43,1091.91 250.30,1096.83 245.18,1101.98 240.05,1107.36 234.93,1112.99 229.80,1118.90 224.68,1125.09 219.55,1131.59 214.43,1138.44 209.30,1145.64 204.18,1153.24 199.05,1161.26 193.93,1169.74 188.80,1178.73 183.68,1188.27 178.55,1198.41 173.43,1209.21 168.30,1220.73 163.18,1233.06 158.05,1246.28 152.93,1260.49 147.80,1275.80"/>
<polygon fill="#ffb360" stroke="#ffb360" stroke-width="0.6" points="147.80,1275.80 152.93,1260.49 158.05,1246.28 163.18,1233.06 168.30,1220.73 173.43,1209.21 178.55,1198.41 183.68,1188.27 188.80,1178.73 193.93,1169.74 199.05,1161.26 204.18,1153.24 209.30,1145.64 214.43,1138.44 219.55,1131.59 224.68,1125.09 229.80,1118.90 234.93,1112.99 240.05,1107.36 245.18,1101.98 250.30,1096.83 255.43,1091.91 260.55,1087.19 265.68,1082.66 270.80,1078.32 275.93,1074.15 281.05,1070.13 286.18,1066.28 291.30,1062.56 296.43,1058.98 301.55,1055.53 306.67,1052.20 311.80,1048.99 316.93,1045.88 322.05,1042.88 327.18,1039.98 332.30,1037.17 337.43,1034.46 342.55,1031.82 347.68,1029.27 352.80,1026.80 357.93,1024.40 363.05,1022.07 368.18,1019.81 373.30,1017.62 378.43,1015.48 383.55,1013.41 388.68,1011.39 393.80,1009.43 398.93,1007.52 404.05,1005.66 409.18,1003.85 414.30,1002.08 419.43,1000.36 424.55,998.69 429.68,997.05 434.80,995.46 439.93,993.90 445.05,992.38 450.18,990.90 455.30,989.45 455.30,989.45 450.18,990.42 445.05,991.41 439.93,992.43 434.80,993.48 429.68,994.56 424.55,995.67 419.43,996.82 414.30,998.00 409.18,999.21 404.05,1000.46 398.93,1001.75 393.80,1003.09 388.68,1004.46 383.55,1005.88 378.43,1007.35 373.30,1008.86 368.18,1010.43 363.05,1012.06 357.93,1013.74 352.80,1015.48 347.68,1017.29 342.55,1019.17 337.43,1021.11 332.30,1023.14 327.18,1025.24 322.05,1027.44 316.93,1029.72 311.80,1032.10 306.67,1034.58 301.55,1037.17 296.43,1039.89 291.30,1042.72 286.18,1045.70 281.05,1048.82 275.93,1052.09 270.80,1055.53 265.68,1059.15 260.55,1062.97 255.43,1067.00 250.30,1071.26 245.18,1075.78 240.05,1080.56 234.93,1085.65 229.80,1091.06 224.68,1096.83 219.55,1103.00 214.43,1109.61 209.30,1116.72 204.18,1124.36 199.05,1132.62 193.93,1141.57 188.80,1151.30 183.68,1161.91 178.55,1173.53 173.43,1186.32 168.30,1200.44 163.18,1216.14 158.05,1233.69 152.93,1253.43 147.80,1275.80"/>
<polygon fill="#ff733b" stroke="#ff733b" stroke-width="0.6" points="147.80,1275.80 152.93,1253.43 158.05,1233.69 163.18,1216.14 168.30,1200.44 173.43,1186.32 178.55,1173.53 183.68,1161.91 188.80,1151.30 193.93,1141.57 199.05,1132.62 204.18,1124.36 209.30,1116.72 214.43,1109.61 219.55,1103.00 224.68,1096.83 229.80,1091.06 234.93,1085.65 240.05,1080.56 245.18,1075.78 250.30,1071.26 255.43,1067.00 260.55,1062.97 265.68,1059.15 270.80,1055.53 275.93,1052.09 281.05,1048.82 286.18,1045.70 291.30,1042.72 296.43,1039.89 301.55,1037.17 306.67,1034.58 311.80,1032.10 316.93,1029.72 322.05,1027.44 327.18,1025.24 332.30,1023.14 337.43,1021.11 342.55,1019.17 347.68,1017.29 352.80,1015.48 357.93,1013.74 363.05,1012.06 368.18,1010.43 373.30,1008.86 378.43,1007.35 383.55,1005.88 388.68,1004.46 393.80,1003.09 398.93,1001.75 404.05,1000.46 409.18,999.21 414.30,998.00 419.43,996.82 424.55,995.67 429.68,994.56 434.80,993.48 439.93,992.43 445.05,991.41 450.18,990.42 455.30,989.45 455.30,989.45 450.18,989.93 445.05,990.43 439.93,990.95 434.80,991.48 429.68,992.03 424.55,992.60 419.43,993.18 414.30,993.79 409.18,994.42 404.05,995.06 398.93,995.74 393.80,996.43 388.68,997.16 383.55,997.91 378.43,998.69 373.30,999.50 368.18,1000.34 363.05,1001.22 357.93,1002.13 352.80,1003.09 347.68,1004.08 342.55,1005.12 337.43,1006.21 332.30,1007.35 327.18,1008.54 322.05,1009.79 316.93,1011.11 311.80,1012.49 306.67,1013.95 301.55,1015.48 296.43,1017.10 291.30,1018.82 286.18,1020.64 281.05,1022.57 275.93,1024.62 270.80,1026.80 265.68,1029.13 260.55,1031.63 255.43,1034.30 250.30,1037.17 245.18,1040.27 240.05,1043.62 234.93,1047.26 229.80,1051.21 224.68,1055.53 219.55,1060.27 214.43,1065.49 209.30,1071.26 204.18,1077.70 199.05,1084.90 193.93,1093.02 188.80,1102.25 183.68,1112.84 178.55,1125.09 173.43,1139.44 168.30,1156.49 163.18,1177.06 158.05,1202.38 152.93,1234.30 147.80,1275.80"/>
<polygon fill="#ff2613" stroke="#ff2613" stroke-width="0.6" points="147.80,1275.80 152.93,1234.30 158.05,1202.38 163.18,1177.06 168.30,1156.49 173.43,1139.44 178.55,1125.09 183.68,1112.84 188.80,1102.25 193.93,1093.02 199.05,1084.90 204.18,1077.70 209.30,1071.26 214.43,1065.49 219.55,1060.27 224.68,1055.53 229.80,1051.21 234.93,1047.26 240.05,1043.62 245.18,1040.27 250.30,1037.17 255.43,1034.30 260.55,1031.63 265.68,1029.13 270.80,1026.80 275.93,1024.62 281.05,1022.57 286.18,1020.64 291.30,1018.82 296.43,1017.10 301.55,1015.48 306.67,1013.95 311.80,1012.49 316.93,1011.11 322.05,1009.79 327.18,1008.54 332.30,1007.35 337.43,1006.21 342.55,1005.12 347.68,1004.08 352.80,1003.09 357.93,1002.13 363.05,1001.22 368.18,1000.34 373.30,999.50 378.43,998.69 383.55,997.91 388.68,997.16 393.80,996.43 398.93,995.74 404.05,995.06 409.18,994.42 414.30,993.79 419.43,993.18 424.55,992.60 429.68,992.03 434.80,991.48 439.93,990.95 445.05,990.43 450.18,989.93 455.30,989.45 455.30,989.45 450.18,989.45 445.05,989.45 439.93,989.45 434.80,989.45 429.68,989.45 424.55,989.45 419.43,989.45 414.30,989.45 409.18,989.45 404.05,989.45 398.93,989.45 393.80,989.45 388.68,989.45 383.55,989.45 378.43,989.45 373.30,989.45 368.18,989.45 363.05,989.45 357.93,989.45 352.80,989.45 347.68,989.45 342.55,989.45 337.43,989.45 332.30,989.45 327.18,989.45 322.05,989.45 316.93,989.45 311.80,989.45 306.67,989.45 301.55,989.45 296.43,989.45 291.30,989.45 286.18,989.45 281.05,989.45 275.93,989.45 270.80,989.45 265.68,989.45 260.55,989.45 255.43,989.45 250.30,989.45 245.18,989.45 240.05,989.45 234.93,989.45 229.80,989.45 224.68,989.45 219.55,989.45 214.43,989.45 209.30,989.45 204.18,989.45 199.05,989.45 193.93,989.45 188.80,989.45 183.68,989.45 178.55,989.45 173.43,989.45 168.30,989.45 163.18,989.45 158.05,989.45 152.93,989.45 147.80,989.45"/>
<polygon fill="#6826fe" stroke="#6826fe" stroke-width="0.6" points="455.30,989.45 462.99,982.29 470.68,975.13 478.36,967.97 486.05,960.81 493.74,953.66 501.43,946.50 509.11,939.34 516.80,932.18 524.49,925.02 532.17,917.86 539.86,910.70 547.55,903.54 555.24,896.39 562.92,889.23 570.61,882.07 578.30,874.91 585.99,867.75 593.67,860.59 601.36,853.43 609.05,846.27 616.74,839.12 624.42,831.96 632.11,824.80 639.80,817.64 647.49,810.48 655.17,803.32 662.86,796.16 670.55,789.00 678.24,781.85 685.92,774.69 693.61,767.53 701.30,760.37 708.99,753.21 716.67,746.05 724.36,738.89 732.05,731.74 739.74,724.58 747.42,717.42 755.11,710.26 762.80,703.10 762.80,755.16 755.11,760.50 747.42,765.86 739.74,771.25 732.05,776.66 724.36,782.09 716.67,787.55 708.99,793.04 701.30,798.55 693.61,804.09 685.92,809.65 678.24,815.24 670.55,820.85 662.86,826.49 655.17,832.16 647.49,837.85 639.80,843.57 632.11,849.32 624.42,855.10 616.74,860.90 609.05,866.73 601.36,872.59 593.67,878.47 585.99,884.39 578.30,890.33 570.61,896.30 562.92,902.30 555.24,908.33 547.55,914.39 539.86,920.48 532.17,926.59 524.49,932.74 516.80,938.92 509.11,945.13 501.43,951.36 493.74,957.63 486.05,963.93 478.36,970.27 470.68,976.63 462.99,983.02 455.30,989.45"/>
<polygon fill="#3473f8" stroke="#3473f8" stroke-width="0.6" points="455.30,989.45 462.99,983.02 470.68,976.63 478.36,970.27 486.05,963.93 493.74,957.63 501.43,951.36 509.11,945.13 516.80,938.92 524.49,932.74 532.17,926.59 539.86,920.48 547.55,914.39 555.24,908.33 562.92,902.30 570.61,896.30 578.30,890.33 585.99,884.39 593.67,878.47 601.36,872.59 609.05,866.73 616.74,860.90 624.42,855.10 632.11,849.32 639.80,843.57 647.49,837.85 655.17,832.16 662.86,826.49 670.55,820.85 678.24,815.24 685.92,809.65 693.61,804.09 701.30,798.55 708.99,793.04 716.67,787.55 724.36,782.09 732.05,776.66 739.74,771.25 747.42,765.86 755.11,760.50 762.80,755.16 762.80,798.55 755.11,802.54 747.42,806.57 739.74,810.63 732.05,814.73 724.36,818.86 716.67,823.02 708.99,827.23 701.30,831.46 693.61,835.74 685.92,840.05 678.24,844.40 670.55,848.79 662.86,853.21 655.17,857.68 647.49,862.18 639.80,866.73 632.11,871.31 624.42,875.94 616.74,880.61 609.05,885.32 601.36,890.08 593.67,894.88 585.99,899.72 578.30,904.61 570.61,909.54 562.92,914.52 555.24,919.54 547.55,924.62 539.86,929.74 532.17,934.91 524.49,940.13 516.80,945.40 509.11,950.72 501.43,956.09 493.74,961.51 486.05,966.99 478.36,972.52 470.68,978.11 462.99,983.75 455.30,989.45"/>
<polygon fill="#00b5eb" stroke="#00b5eb" stroke-width="0.6" points="455.30,989.45 462.99,983.75 470.68,978.11 478.36,972.52 486.05,966.99 493.74,961.51 501.43,956.09 509.11,950.72 516.80,945.40 524.49,940.13 532.17,934.91 539.86,929.74 547.55,924.62 555.24,919.54 562.92,914.52 570.61,909.54 578.30,904.61 585.99,899.72 593.67,894.88 601.36,890.08 609.05,885.32 616.74,880.61 624.42,875.94 632.11,871.31 639.80,866.73 647.49,862.18 655.17,857.68 662.86,853.21 670.55,848.79 678.24,844.40 685.92,840.05 693.61,835.74 701.30,831.46 708.99,827.23 716.67,823.02 724.36,818.86 732.05,814.73 739.74,810.63 747.42,806.57 755.11,802.54 762.80,798.55 762.80,835.26 755.11,838.24 747.42,841.26 739.74,844.31 732.05,847.40 724.36,850.53 716.67,853.69 708.99,856.89 701.30,860.13 693.61,863.41 685.92,866.73 678.24,870.09 670.55,873.49 662.86,876.93 655.17,880.42 647.49,883.95 639.80,887.53 632.11,891.15 624.42,894.82 616.74,898.54 609.05,902.30 601.36,906.11 593.67,909.98 585.99,913.89 578.30,917.86 570.61,921.88 562.92,925.96 555.24,930.09 547.55,934.28 539.86,938.53 532.17,942.83 524.49,947.20 516.80,951.63 509.11,956.12 501.43,960.68 493.74,965.30 486.05,969.99 478.36,974.75 470.68,979.58 462.99,984.48 455.30,989.45"/>
<polygon fill="#32e3da" stroke="#32e3da" stroke-width="0.6" points="455.30,989.45 462.99,984.48 470.68,979.58 478.36,974.75 486.05,969.99 493.74,965.30 501.43,960.68 509.11,956.12 516.80,951.63 524.49,947.20 532.17,942.83 539.86,938.53 547.55,934.28 555.24,930.09 562.92,925.96 570.61,921.88 578.30,917.86 585.99,913.89 593.67,909.98 601.36,906.11 609.05,902.30 616.74,898.54 624.42,894.82 632.11,891.15 639.80,887.53 647.49,883.95 655.17,880.42 662.86,876.93 670.55,873.49 678.24,870.09 685.92,866.73 693.61,863.41 701.30,860.13 708.99,856.89 716.67,853.69 724.36,850.53 732.05,847.40 739.74,844.31 747.42,841.26 755.11,838.24 762.80,835.26 762.80,866.73 755.11,868.94 747.42,871.17 739.74,873.45 732.05,875.75 724.36,878.09 716.67,880.47 708.99,882.88 701.30,885.32 693.61,887.81 685.92,890.33 678.24,892.89 670.55,895.49 662.86,898.13 655.17,900.82 647.49,903.54 639.80,906.32 632.11,909.13 624.42,911.99 616.74,914.90 609.05,917.86 601.36,920.87 593.67,923.93 585.99,927.04 578.30,930.21 570.61,933.42 562.92,936.70 555.24,940.04 547.55,943.43 539.86,946.88 532.17,950.40 524.49,953.98 516.80,957.63 509.11,961.35 501.43,965.14 493.74,969.00 486.05,972.93 478.36,976.94 470.68,981.03 462.99,985.20 455.30,989.45"/>
<polygon fill="#66fcc2" stroke="#66fcc2" stroke-width="0.6" points="455.30,989.45 462.99,985.20 470.68,981.03 478.36,976.94 486.05,972.93 493.74,969.00 501.43,965.14 509.11,961.35 516.80,957.63 524.49,953.98 532.17,950.40 539.86,946.88 547.55,943.43 555.24,940.04 562.92,936.70 570.61,933.42 578.30,930.21 585.99,927.04 593.67,923.93 601.36,920.87 609.05,917.86 616.74,914.90 624.42,911.99 632.11,909.13 639.80,906.32 647.49,903.54 655.17,900.82 662.86,898.13 670.55,895.49 678.24,892.89 685.92,890.33 693.61,887.81 701.30,885.32 708.99,882.88 716.67,880.47 724.36,878.09 732.05,875.75 739.74,873.45 747.42,871.17 755.11,868.94 762.80,866.73 762.80,894.00 755.11,895.60 747.42,897.24 739.74,898.89 732.05,900.58 724.36,902.30 716.67,904.05 708.99,905.83 701.30,907.64 693.61,909.48 685.92,911.35 678.24,913.27 670.55,915.21 662.86,917.19 655.17,919.21 647.49,921.27 639.80,923.37 632.11,925.51 624.42,927.69 616.74,929.91 609.05,932.18 601.36,934.49 593.67,936.86 585.99,939.26 578.30,941.72 570.61,944.24 562.92,946.80 555.24,949.42 547.55,952.10 539.86,954.84 532.17,957.63 524.49,960.49 516.80,963.42 509.11,966.41 501.43,969.47 493.74,972.61 486.05,975.81 478.36,979.10 470.68,982.47 462.99,985.91 455.30,989.45"/>
<polygon fill="#99fca6" stroke="#99fca6" stroke-width="0.6" points="455.30,989.45 462.99,985.91 470.68,982.47 478.36,979.10 486.05,975.81 493.74,972.61 501.43,969.47 509.11,966.41 516.80,963.42 524.49,960.49 532.17,957.63 539.86,954.84 547.55,952.10 555.24,949.42 562.92,946.80 570.61,944.24 578.30,941.72 585.99,939.26 593.67,936.86 601.36,934.49 609.05,932.18 616.74,929.91 624.42,927.69 632.11,925.51 639.80,923.37 647.49,921.27 655.17,919.21 662.86,917.19 670.55,915.21 678.24,913.27 685.92,911.35 693.61,909.48 701.30,907.64 708.99,905.83 716.67,904.05 724.36,902.30 732.05,900.58 739.74,898.89 747.42,897.24 755.11,895.60 762.80,894.00 762.80,917.86 755.11,918.99 747.42,920.14 739.74,921.32 732.05,922.51 724.36,923.73 716.67,924.97 708.99,926.24 701.30,927.54 693.61,928.86 685.92,930.21 678.24,931.58 670.55,932.99 662.86,934.42 655.17,935.89 647.49,937.39 639.80,938.92 632.11,940.48 624.42,942.08 616.74,943.72 609.05,945.40 601.36,947.11 593.67,948.86 585.99,950.66 578.30,952.50 570.61,954.39 562.92,956.32 555.24,958.30 547.55,960.33 539.86,962.41 532.17,964.55 524.49,966.74 516.80,969.00 509.11,971.31 501.43,973.69 493.74,976.13 486.05,978.64 478.36,981.23 470.68,983.89 462.99,986.63 455.30,989.45"/>
<polygon fill="#cce385" stroke="#cce385" stroke-width="0.6" points="455.30,989.45 462.99,986.63 470.68,983.89 478.36,981.23 486.05,978.64 493.74,976.13 501.43,973.69 509.11,971.31 516.80,969.00 524.49,966.74 532.17,964.55 539.86,962.41 547.55,960.33 555.24,958.30 562.92,956.32 570.61,954.39 578.30,952.50 585.99,950.66 593.67,948.86 601.36,947.11 609.05,945.40 616.74,943.72 624.42,942.08 632.11,940.48 639.80,938.92 647.49,937.39 655.17,935.89 662.86,934.42 670.55,932.99 678.24,931.58 685.92,930.21 693.61,928.86 701.30,927.54 708.99,926.24 716.67,924.97 724.36,923.73 732.05,922.51 739.74,921.32 747.42,920.14 755.11,918.99 762.80,917.86 762.80,938.92 755.11,939.67 747.42,940.44 739.74,941.22 732.05,942.02 724.36,942.83 716.67,943.67 708.99,944.52 701.30,945.40 693.61,946.29 685.92,947.20 678.24,948.14 670.55,949.09 662.86,950.07 655.17,951.07 647.49,952.10 639.80,953.15 632.11,954.23 624.42,955.34 616.74,956.47 609.05,957.63 601.36,958.83 593.67,960.05 585.99,961.31 578.30,962.60 570.61,963.93 562.92,965.30 555.24,966.71 547.55,968.15 539.86,969.64 532.17,971.17 524.49,972.75 516.80,974.38 509.11,976.06 501.43,977.79 493.74,979.58 486.05,981.42 478.36,983.33 470.68,985.30 462.99,987.34 455.30,989.45"/>
<polygon fill="#ffb360" stroke="#ffb360" stroke-width="0.6" points="455.30,989.45 462.99,987.34 470.68,985.30 478.36,983.33 486.05,981.42 493.74,979.58 501.43,977.79 509.11,976.06 516.80,974.38 524.49,972.75 532.17,971.17 539.86,969.64 547.55,968.15 555.24,966.71 562.92,965.30 570.61,963.93 578.30,962.60 585.99,961.31 593.67,960.05 601.36,958.83 609.05,957.63 616.74,956.47 624.42,955.34 632.11,954.23 639.80,953.15 647.49,952.10 655.17,951.07 662.86,950.07 670.55,949.09 678.24,948.14 685.92,947.20 693.61,946.29 701.30,945.40 708.99,944.52 716.67,943.67 724.36,942.83 732.05,942.02 739.74,941.22 747.42,940.44 755.11,939.67 762.80,938.92 762.80,957.63 755.11,958.08 747.42,958.54 739.74,959.00 732.05,959.48 724.36,959.97 716.67,960.47 708.99,960.99 701.30,961.51 693.61,962.05 685.92,962.60 678.24,963.17 670.55,963.75 662.86,964.35 655.17,964.96 647.49,965.59 639.80,966.23 632.11,966.90 624.42,967.58 616.74,968.28 609.05,969.00 601.36,969.74 593.67,970.50 585.99,971.29 578.30,972.10 570.61,972.93 562.92,973.79 555.24,974.68 547.55,975.59 539.86,976.54 532.17,977.52 524.49,978.53 516.80,979.58 509.11,980.66 501.43,981.78 493.74,982.94 486.05,984.15 478.36,985.40 470.68,986.70 462.99,988.05 455.30,989.45"/>
<polygon fill="#ff733b" stroke="#ff733b" stroke-width="0.6" points="455.30,989.45 462.99,988.05 470.68,986.70 478.36,985.40 486.05,984.15 493.74,982.94 501.43,981.78 509.11,980.66 516.80,979.58 524.49,978.53 532.17,977.52 539.86,976.54 547.55,975.59 555.24,974.68 562.92,973.79 570.61,972.93 578.30,972.10 585.99,971.29 593.67,970.50 601.36,969.74 609.05,969.00 616.74,968.28 624.42,967.58 632.11,966.90 639.80,966.23 647.49,965.59 655.17,964.96 662.86,964.35 670.55,963.75 678.24,963.17 685.92,962.60 693.61,962.05 701.30,961.51 708.99,960.99 716.67,960.47 724.36,959.97 732.05,959.48 739.74,959.00 747.42,958.54 755.11,958.08 762.80,957.63 762.80,974.38 755.11,974.58 747.42,974.79 739.74,975.00 732.05,975.21 724.36,975.43 716.67,975.66 708.99,975.89 701.30,976.13 693.61,976.38 685.92,976.63 678.24,976.89 670.55,977.15 662.86,977.43 655.17,977.71 647.49,978.00 639.80,978.29 632.11,978.60 624.42,978.92 616.74,979.24 609.05,979.58 601.36,979.92 593.67,980.28 585.99,980.65 578.30,981.03 570.61,981.42 562.92,981.83 555.24,982.25 547.55,982.69 539.86,983.14 532.17,983.61 524.49,984.09 516.80,984.60 509.11,985.12 501.43,985.67 493.74,986.23 486.05,986.82 478.36,987.44 470.68,988.08 462.99,988.75 455.30,989.45"/>
<polygon fill="#ff2613" stroke="#ff2613" stroke-width="0.6" points="455.30,989.45 462.99,988.75 470.68,988.08 478.36,987.44 486.05,986.82 493.74,986.23 501.43,985.67 509.11,985.12 516.80,984.60 524.49,984.09 532.17,983.61 539.86,983.14 547.55,982.69 555.24,982.25 562.92,981.83 570.61,981.42 578.30,981.03 585.99,980.65 593.67,980.28 601.36,979.92 609.05,979.58 616.74,979.24 624.42,978.92 632.11,978.60 639.80,978.29 647.49,978.00 655.17,977.71 662.86,977.43 670.55,977.15 678.24,976.89 685.92,976.63 693.61,976.38 701.30,976.13 708.99,975.89 716.67,975.66 724.36,975.43 732.05,975.21 739.74,975.00 747.42,974.79 755.11,974.58 762.80,974.38 762.80,989.45 755.11,989.45 747.42,989.45 739.74,989.45 732.05,989.45 724.36,989.45 716.67,989.45 708.99,989.45 701.30,989.45 693.61,989.45 685.92,989.45 678.24,989.45 670.55,989.45 662.86,989.45 655.17,989.45 647.49,989.45 639.80,989.45 632.11,989.45 624.42,989.45 616.74,989.45 609.05,989.45 601.36,989.45 593.67,989.45 585.99,989.45 578.30,989.45 570.61,989.45 562.92,989.45 555.24,989.45 547.55,989.45 539.86,989.45 532.17,989.45 524.49,989.45 516.80,989.45 509.11,989.45 501.43,989.45 493.74,989.45 486.05,989.45 478.36,989.45 470.68,989.45 462.99,989.45 455.30,989.45"/>
</g>
<g stroke="#000" stroke-width="1.90" fill="none">
<rect x="147.80" y="703.10" width="615.00" height="572.70"/>
<line x1="147.80" y1="1275.80" x2="147.80" y2="1283.80"/>
<line x1="147.80" y1="1275.80" x2="139.80" y2="1275.80"/>
<line x1="270.80" y1="1275.80" x2="270.80" y2="1283.80"/>
<line x1="147.80" y1="1161.26" x2="139.80" y2="1161.26"/>
<line x1="393.80" y1="1275.80" x2="393.80" y2="1283.80"/>
<line x1="147.80" y1="1046.72" x2="139.80" y2="1046.72"/>
<line x1="516.80" y1="1275.80" x2="516.80" y2="1283.80"/>
<line x1="147.80" y1="932.18" x2="139.80" y2="932.18"/>
<line x1="639.80" y1="1275.80" x2="639.80" y2="1283.80"/>
<line x1="147.80" y1="817.64" x2="139.80" y2="817.64"/>
<line x1="762.80" y1="1275.80" x2="762.80" y2="1283.80"/>
<line x1="147.80" y1="703.10" x2="139.80" y2="703.10"/>
</g>
<rect x="801.00" y="1218.53" width="29.00" height="57.57" fill="#6826fe"/>
<rect x="801.00" y="1161.26" width="29.00" height="57.57" fill="#3473f8"/>
<rect x="801.00" y="1103.99" width="29.00" height="57.57" fill="#00b5eb"/>
<rect x="801.00" y="1046.72" width="29.00" height="57.57" fill="#32e3da"/>
<rect x="801.00" y="989.45" width="29.00" height="57.57" fill="#66fcc2"/>
<rect x="801.00" y="932.18" width="29.00" height="57.57" fill="#99fca6"/>
<rect x="801.00" y="874.91" width="29.00" height="57.57" fill="#cce385"/>
<rect x="801.00" y="817.64" width="29.00" height="57.57" fill="#ffb360"/>
<rect x="801.00" y="760.37" width="29.00" height="57.57" fill="#ff733b"/>
<rect x="801.00" y="703.10" width="29.00" height="57.57" fill="#ff2613"/>
<g stroke="#000" stroke-width="1.90" fill="none">
<rect x="801.00" y="703.10" width="29.00" height="572.70"/>
<line x1="830.00" y1="1275.80" x2="837.40" y2="1275.80"/>
<line x1="830.00" y1="1161.26" x2="837.40" y2="1161.26"/>
<line x1="830.00" y1="1046.72" x2="837.40" y2="1046.72"/>
<line x1="830.00" y1="932.18" x2="837.40" y2="932.18"/>
<line x1="830.00" y1="817.64" x2="837.40" y2="817.64"/>
<line x1="830.00" y1="703.10" x2="837.40" y2="703.10"/>
</g>
<text transform="translate(82.69,1290.70) scale(0.9387,1)" font-size="42.20" fill="#000">0.0</text>
<text transform="translate(123.04,1320.80) scale(0.9387,1)" font-size="42.20" fill="#000">0.0</text>
<text transform="translate(845.39,1290.70) scale(0.9387,1)" font-size="42.20" fill="#000">0.0</text>
<text transform="translate(82.69,1176.16) scale(0.9387,1)" font-size="42.20" fill="#000">0.2</text>
<text transform="translate(246.04,1320.80) scale(0.9387,1)" font-size="42.20" fill="#000">0.2</text>
<text transform="translate(845.39,1176.16) scale(0.9387,1)" font-size="42.20" fill="#000">0.2</text>
<text transform="translate(82.69,1061.62) scale(0.9387,1)" font-size="42.20" fill="#000">0.4</text>
<text transform="translate(369.04,1320.80) scale(0.9387,1)" font-size="42.20" fill="#000">0.4</text>
<text transform="translate(845.39,1061.62) scale(0.9387,1)" font-size="42.20" fill="#000">0.4</text>
<text transform="translate(82.69,947.08) scale(0.9387,1)" font-size="42.20" fill="#000">0.6</text>
<text transform="translate(492.04,1320.80) scale(0.9387,1)" font-size="42.20" fill="#000">0.6</text>
<text transform="translate(845.39,947.08) scale(0.9387,1)" font-size="42.20" fill="#000">0.6</text>
<text transform="translate(82.69,832.54) scale(0.9387,1)" font-size="42.20" fill="#000">0.8</text>
<text transform="translate(615.04,1320.80) scale(0.9387,1)" font-size="42.20" fill="#000">0.8</text>
<text transform="translate(845.39,832.54) scale(0.9387,1)" font-size="42.20" fill="#000">0.8</text>
<text transform="translate(82.69,718.00) scale(0.9387,1)" font-size="42.20" fill="#000">1.0</text>
<text transform="translate(738.04,1320.80) scale(0.9387,1)" font-size="42.20" fill="#000">1.0</text>
<text transform="translate(845.39,718.00) scale(0.9387,1)" font-size="42.20" fill="#000">1.0</text>
<text transform="translate(414.03,1387.40) scale(1.0800,1)" font-size="63.80" font-style="italic" stroke="#fff" stroke-width="0.50" paint-order="fill stroke" fill="#000">f</text>
<text transform="translate(444.09,1356.30) scale(1.1594,1)" font-size="38.00" fill="#000">sep</text>
<text transform="translate(438.53,1406.50) scale(1.0937,1)" font-size="43.80" fill="#000">T</text>
<text transform="translate(56.00,1027.83) rotate(-90) scale(1.0618,1)" font-size="65.00" font-style="italic" fill="#000">F</text>
<text transform="translate(32.80,981.19) rotate(-90) scale(0.9115,1)" font-size="46.30" fill="#000">in</text>
<text transform="translate(74.00,990.25) rotate(-90) scale(1.0050,1)" font-size="46.80" fill="#000">T</text>
<text transform="translate(948.70,1051.00) rotate(-90) scale(0.9837,1)" font-size="67.50" fill="#000">TBE</text>
<text fill="#000"><tspan x="412.03" y="1475.90" font-size="37.00" textLength="9.59" lengthAdjust="spacingAndGlyphs">(</tspan><tspan x="424.90" y="1475.30" font-size="34.50" textLength="19.81" lengthAdjust="spacingAndGlyphs">b</tspan><tspan x="446.36" y="1475.90" font-size="37.00" textLength="9.72" lengthAdjust="spacingAndGlyphs">)</tspan></text>
<text transform="translate(469.79,1475.30) scale(1.1872,1)" font-size="33.00" fill="#000">TBE.</text>
</svg>
</body></html>
